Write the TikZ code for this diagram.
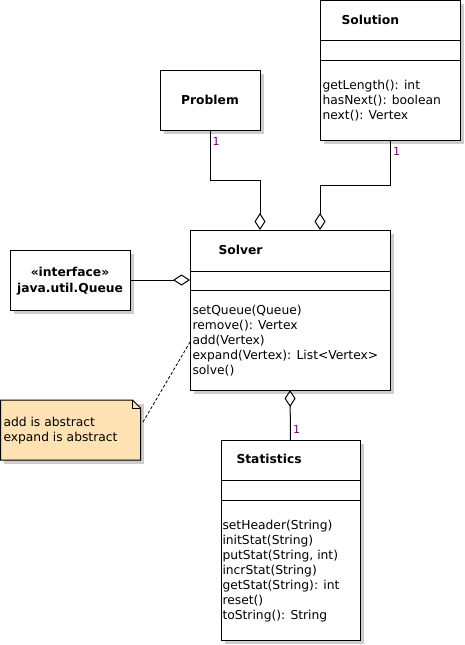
\documentclass[tikz,border=0pt]{standalone}
\usepackage{fontspec}
\setmainfont{DejaVu Sans}
\usetikzlibrary{arrows.meta,shadows,calc}
\definecolor{notefill}{RGB}{255,226,180}
\definecolor{mult}{RGB}{120,0,110}
\definecolor{shadowc}{RGB}{205,205,205}
\begin{document}
\begin{tikzpicture}[x=1pt,y=-1pt,line width=1pt,
  box/.style={draw=black,fill=white,inner sep=0pt,outer sep=0pt,anchor=north west,
    drop shadow={shadow xshift=3.5pt,shadow yshift=-3.5pt,fill=shadowc,opacity=1}},
  titletext/.style={font=\bfseries\fontsize{12.3}{15}\selectfont,anchor=base west,inner sep=0pt},
  bodytext/.style={font=\fontsize{12.3}{15}\selectfont,anchor=base west,inner sep=0pt},
  multtext/.style={font=\fontsize{11}{13}\selectfont,text=mult,anchor=base west,inner sep=0pt},
  agg/.style={-{Diamond[open,length=17pt,width=11pt,line width=1pt]}},
  sep/.style={line width=1pt}]
\useasboundingbox (0,0) rectangle (465,645);

% Problem
\node[box,minimum width=100pt,minimum height=60pt] (problem) at (160,70) {};
\node[titletext,anchor=base] (problemT) at (210,104) {Problem};

% Solution
\node[box,minimum width=140pt,minimum height=139.5pt] (solution) at (320,0.5) {};
\draw[sep] (320,40) -- (460,40);
\draw[sep] (320,60) -- (460,60);
\node[titletext] (solutionT) at (341,24) {Solution};
\node[bodytext] (sol1) at (322,89) {getLength(): int};
\node[bodytext] (sol2) at (322,104) {hasNext(): boolean};
\node[bodytext] (sol3) at (322,119) {next(): Vertex};

% Queue
\node[box,minimum width=120pt,minimum height=60pt] (queue) at (10,250) {};
\node[titletext,anchor=base] (queueT1) at (70,276.5) {«interface»};
\node[titletext,anchor=base] (queueT2) at (70,292) {java.util.Queue};

% Solver
\node[box,minimum width=200pt,minimum height=160pt] (solver) at (190,230) {};
\draw[sep] (190,271) -- (390,271);
\draw[sep] (190,290) -- (390,290);
\node[titletext] (solverT) at (218,254) {Solver};
\node[bodytext] (sv1) at (192,314) {setQueue(Queue)};
\node[bodytext] (sv2) at (192,329) {remove(): Vertex};
\node[bodytext] (sv3) at (192,344) {add(Vertex)};
\node[bodytext] (sv4) at (192,359) {expand(Vertex): List<Vertex>};
\node[bodytext] (sv5) at (192,374) {solve()};

% Statistics
\node[box,minimum width=139pt,minimum height=200pt] (stats) at (221,440) {};
\draw[sep] (221,480) -- (360,480);
\draw[sep] (221,500) -- (360,500);
\node[titletext] (statsT) at (236,463.5) {Statistics};
\node[bodytext] (st1) at (222,529) {setHeader(String)};
\node[bodytext] (st2) at (222,544) {initStat(String)};
\node[bodytext] (st3) at (222,559) {putStat(String, int)};
\node[bodytext] (st4) at (222,574) {incrStat(String)};
\node[bodytext] (st5) at (222,589) {getStat(String): int};
\node[bodytext] (st6) at (222,604) {reset()};
\node[bodytext] (st7) at (222,619) {toString(): String};

% Note
\node[inner sep=0pt,outer sep=0pt,anchor=north west,minimum width=140pt,minimum height=60pt] (note) at (0.5,400) {};
\fill[shadowc] (4,403.5) -- (143.5,403.5) -- (143.5,463.5) -- (4,463.5) -- cycle;
\filldraw[fill=notefill,draw=black,line width=1pt] (note.south west) -- (note.north west) -- ($(note.north east)+(-8,0)$) -- ($(note.north east)+(0,8)$) -- (note.south east) -- cycle;
\draw[line width=1pt] ($(note.north east)+(-8,0)$) -- ($(note.north east)+(-8,8)$) -- ($(note.north east)+(0,8)$);
\node[bodytext] (noteT1) at (3,426.5) {add is abstract};
\node[bodytext] (noteT2) at (3,441.5) {expand is abstract};

% Connectors
\coordinate (solverProbEnd) at (260,230);
\coordinate (solverSolEnd) at (320,230);
\draw[agg] (problem.south) -- (210,180) -| (solverProbEnd);
\draw[agg] (solution.south) -- (390,185) -| (solverSolEnd);
\draw[agg] (queue.east) -- (queue.east -| solver.west);
\draw[agg] (stats.north) -- (solver.south);
\coordinate (noteEnd) at (143,422);
\coordinate (solverNoteEnd) at (190,342);
\draw[dashed,dash pattern=on 3pt off 2pt,line width=0.8pt] (noteEnd) -- (solverNoteEnd);

% Multiplicities
\node[multtext] (m1) at (212,145) {1};
\node[multtext] (m2) at (392.5,155) {1};
\node[multtext] (m3) at (292.5,433.5) {1};
\end{tikzpicture}
\end{document}
